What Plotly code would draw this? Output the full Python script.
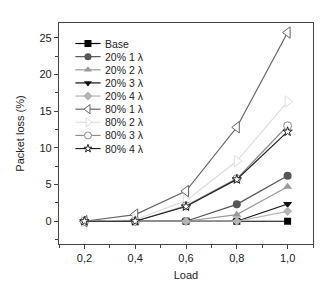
import plotly.graph_objects as go

load = [0.2, 0.4, 0.6, 0.8, 1.0]
load_ticktext = ["0,2", "0,4", "0,6", "0,8", "1,0"]
loss_ticks = [0, 5, 10, 15, 20, 25]

base = [0, 0, 0, 0, 0]
p20_1 = [0, 0, 0, 2.3, 6.2]
p20_2 = [0, 0, 0, 0.9, 4.7]
p20_3 = [0, 0, 0, 0, 2.35]
p20_4 = [0, 0, 0, 0, 1.35]
p80_1 = [0, 0.9, 4.1, 12.8, 25.7]
p80_2 = [0, 0.2, 2.8, 8.2, 16.3]
p80_3 = [0, 0, 2.1, 5.8, 13.0]
p80_4 = [0, 0, 2.0, 5.7, 12.2]

names = ["Base", "20% 1 λ", "20% 2 λ", "20% 3 λ", "20% 4 λ",
         "80% 1 λ", "80% 2 λ", "80% 3 λ", "80% 4 λ"]
series = [base, p20_1, p20_2, p20_3, p20_4, p80_1, p80_2, p80_3, p80_4]

colors = ["#000000", "#555555", "#9a9a9a", "#111111", "#b4b4b4",
          "#666666", "#dedede", "#8c8c8c", "#222222"]
symbols = ["square", "circle", "triangle-up", "triangle-down", "diamond",
           "triangle-left", "triangle-right", "circle", "star"]
hollow = [False, False, False, False, False, True, True, True, True]
sizes = [7, 8, 8, 8, 7, 10, 10, 8, 7]
leg_sizes = [7, 7, 7, 7, 7, 8, 8, 7, 6]

FONT = "Liberation Sans, Arial, sans-serif"

# page offset (browser body margin) compensation
W, H = 321, 284
ML, MR, MT, MB = 42, 16, 15, 46
OFF = 8
px_left, px_right = OFF + ML, OFF + W - MR
px_top, px_bottom = OFF + MT, OFF + H - MB

fig = go.Figure()
for n, s, c, sym, hol, sz in zip(names, series, colors, symbols, hollow, sizes):
    fig.add_trace(go.Scatter(
        x=load, y=s, name=n, mode="lines+markers", showlegend=False,
        line=dict(color=c, width=1.2),
        marker=dict(symbol=sym, size=sz, color="white" if hol else c,
                    line=dict(color=c, width=1 if hol else 0)),
    ))

# custom legend (drawn on a hidden overlay axis measured in page pixels)
leg_x0, leg_x1, leg_xm, leg_tx = 67, 93, 80, 96
leg_y0, leg_dy = 43.7, 13.25
for i, (n, c, sym, hol, sz) in enumerate(zip(names, colors, symbols, hollow, leg_sizes)):
    yy = leg_y0 + i * leg_dy
    fig.add_trace(go.Scatter(
        x=[leg_x0, leg_x1], y=[yy, yy], mode="lines", showlegend=False,
        line=dict(color=c, width=1.2), xaxis="x2", yaxis="y2", hoverinfo="skip"))
    fig.add_trace(go.Scatter(
        x=[leg_xm], y=[yy], mode="markers", showlegend=False,
        marker=dict(symbol=sym, size=sz, color="white" if hol else c,
                    line=dict(color=c, width=1 if hol else 0)),
        xaxis="x2", yaxis="y2", hoverinfo="skip"))
    fig.add_annotation(x=leg_tx, y=yy, xref="x2", yref="y2", text=n,
                       showarrow=False, xanchor="left", yanchor="middle",
                       font=dict(family=FONT, size=10.5, color="#222222"))

axis_common = dict(
    showline=True, linecolor="#444444", linewidth=1.2, mirror=True,
    ticks="outside", ticklen=4, tickcolor="#444444",
    showgrid=False, zeroline=False,
    tickfont=dict(family=FONT, size=11, color="#222222"),
)

fig.update_layout(
    xaxis=dict(
        range=[0.1, 1.1], tickvals=load, ticktext=load_ticktext,
        minor=dict(ticks="outside", ticklen=3, dtick=0.1, tickcolor="#444444"),
        title=dict(text="Load", font=dict(family=FONT, size=11, color="#222222"), standoff=8),
        **axis_common,
    ),
    yaxis=dict(
        range=[-3.1, 27], tickvals=loss_ticks,
        minor=dict(ticks="outside", ticklen=3, dtick=2.5, tickcolor="#444444"),
        title=dict(text="Packet loss (%)", font=dict(family=FONT, size=11, color="#222222"), standoff=12),
        **axis_common,
    ),
    xaxis2=dict(overlaying="x", anchor="y2", range=[px_left, px_right], visible=False, fixedrange=True),
    yaxis2=dict(overlaying="y", anchor="x2", range=[px_bottom, px_top], visible=False, fixedrange=True),
    width=W, height=H,
    margin=dict(l=ML, r=MR, t=MT, b=MB),
    paper_bgcolor="white", plot_bgcolor="white",
    showlegend=False,
)

fig.write_html("out.html")
